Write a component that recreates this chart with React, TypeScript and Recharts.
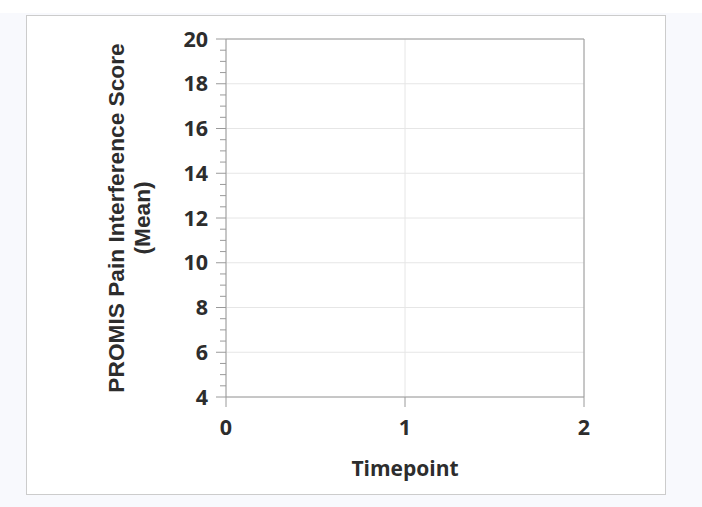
import { CartesianGrid, ComposedChart, Line, XAxis, YAxis } from 'recharts';

const timepoints = [0, 1, 2];
const meanScores: (number | null)[] = [null, null, null];

const xTicks = [0, 1, 2];
const yMajorTicks = [4, 6, 8, 10, 12, 14, 16, 18, 20];
const yAllTicks = [
  4, 4.5, 5, 5.5, 6, 6.5, 7, 7.5, 8, 8.5, 9, 9.5, 10, 10.5, 11, 11.5, 12,
  12.5, 13, 13.5, 14, 14.5, 15, 15.5, 16, 16.5, 17, 17.5, 18, 18.5, 19, 19.5, 20,
];

const data = timepoints.map((t, i) => ({ timepoint: t, mean: meanScores[i] }));

const frameColor = '#9a9a9a';
const textColor = '#2d2d2d';
const tickFont = {
  fill: textColor,
  fontSize: 21.5,
  fontWeight: 700,
  fontFamily: '"Open Sans", sans-serif',
};

const Y_TICK_SIZE = 10;
const Y_TICK_MARGIN = 8;

function YTick({ x, y, payload }: any) {
  const axisX = x + Y_TICK_SIZE + Y_TICK_MARGIN;
  const major = yMajorTicks.includes(payload.value);
  const len = major ? 10 : 6;
  return (
    <g>
      <line x1={axisX - len} x2={axisX} y1={y} y2={y} stroke={frameColor} />
      {major && (
        <text x={x} y={y} dy="0.355em" textAnchor="end" style={tickFont}>
          {payload.value}
        </text>
      )}
    </g>
  );
}

function YTitle({ viewBox }: any) {
  const cy = viewBox.y + viewBox.height / 2;
  const style = {
    fill: textColor,
    fontSize: 22.7,
    fontWeight: 700,
    fontFamily: '"Liberation Sans", Arial, sans-serif',
  };
  return (
    <g>
      <text x={124} y={cy} textAnchor="middle" transform={`rotate(-90, 124, ${cy})`} style={style}>
        PROMIS Pain Interference Score
      </text>
      <text x={150} y={cy} textAnchor="middle" transform={`rotate(-90, 150, ${cy})`} style={style}>
        (Mean)
      </text>
    </g>
  );
}

export default function App() {
  return (
    <div style={{ position: 'absolute', left: 0, top: 0, width: 702, height: 507, background: '#fff' }}>
      <div style={{ position: 'absolute', left: 0, top: 13, width: 702, height: 494, background: '#f8f9fd' }} />
      <div
        style={{
          position: 'absolute',
          left: 26,
          top: 15,
          width: 640,
          height: 480,
          boxSizing: 'border-box',
          border: '1px solid #cccccc',
          background: '#fff',
        }}
      />
      <div style={{ position: 'absolute', left: 0, top: 0 }}>
        <ComposedChart
          width={702}
          height={507}
          data={data}
          margin={{ top: 38, left: 225, right: 117, bottom: 109 }}
        >
          <CartesianGrid
            xAxisId="x"
            yAxisId="y"
            stroke="#e6e6e6"
            horizontalValues={yMajorTicks}
            verticalValues={xTicks}
          />
          <XAxis
            xAxisId="x"
            dataKey="timepoint"
            type="number"
            domain={[0, 2]}
            ticks={xTicks}
            allowDataOverflow
            height={1}
            tickSize={10}
            tickMargin={13}
            stroke={frameColor}
            tick={tickFont}
            label={{
              value: 'Timepoint',
              position: 'bottom',
              offset: 63,
              style: { ...tickFont, fontSize: 21 },
            }}
          />
          <XAxis
            xAxisId="top"
            orientation="top"
            dataKey="timepoint"
            type="number"
            domain={[0, 2]}
            allowDataOverflow
            height={1}
            tick={false}
            tickLine={false}
            stroke={frameColor}
          />
          <YAxis
            yAxisId="y"
            type="number"
            domain={[4, 20]}
            ticks={yAllTicks}
            interval={0}
            allowDataOverflow
            width={1}
            tickSize={Y_TICK_SIZE}
            tickMargin={Y_TICK_MARGIN}
            tickLine={false}
            stroke={frameColor}
            tick={YTick}
            label={{ content: YTitle }}
          />
          <YAxis
            yAxisId="right"
            orientation="right"
            type="number"
            domain={[4, 20]}
            allowDataOverflow
            width={1}
            tick={false}
            tickLine={false}
            stroke={frameColor}
          />
          <Line
            xAxisId="x"
            yAxisId="y"
            dataKey="mean"
            stroke="#1f77b4"
            isAnimationActive={false}
          />
        </ComposedChart>
      </div>
    </div>
  );
}
